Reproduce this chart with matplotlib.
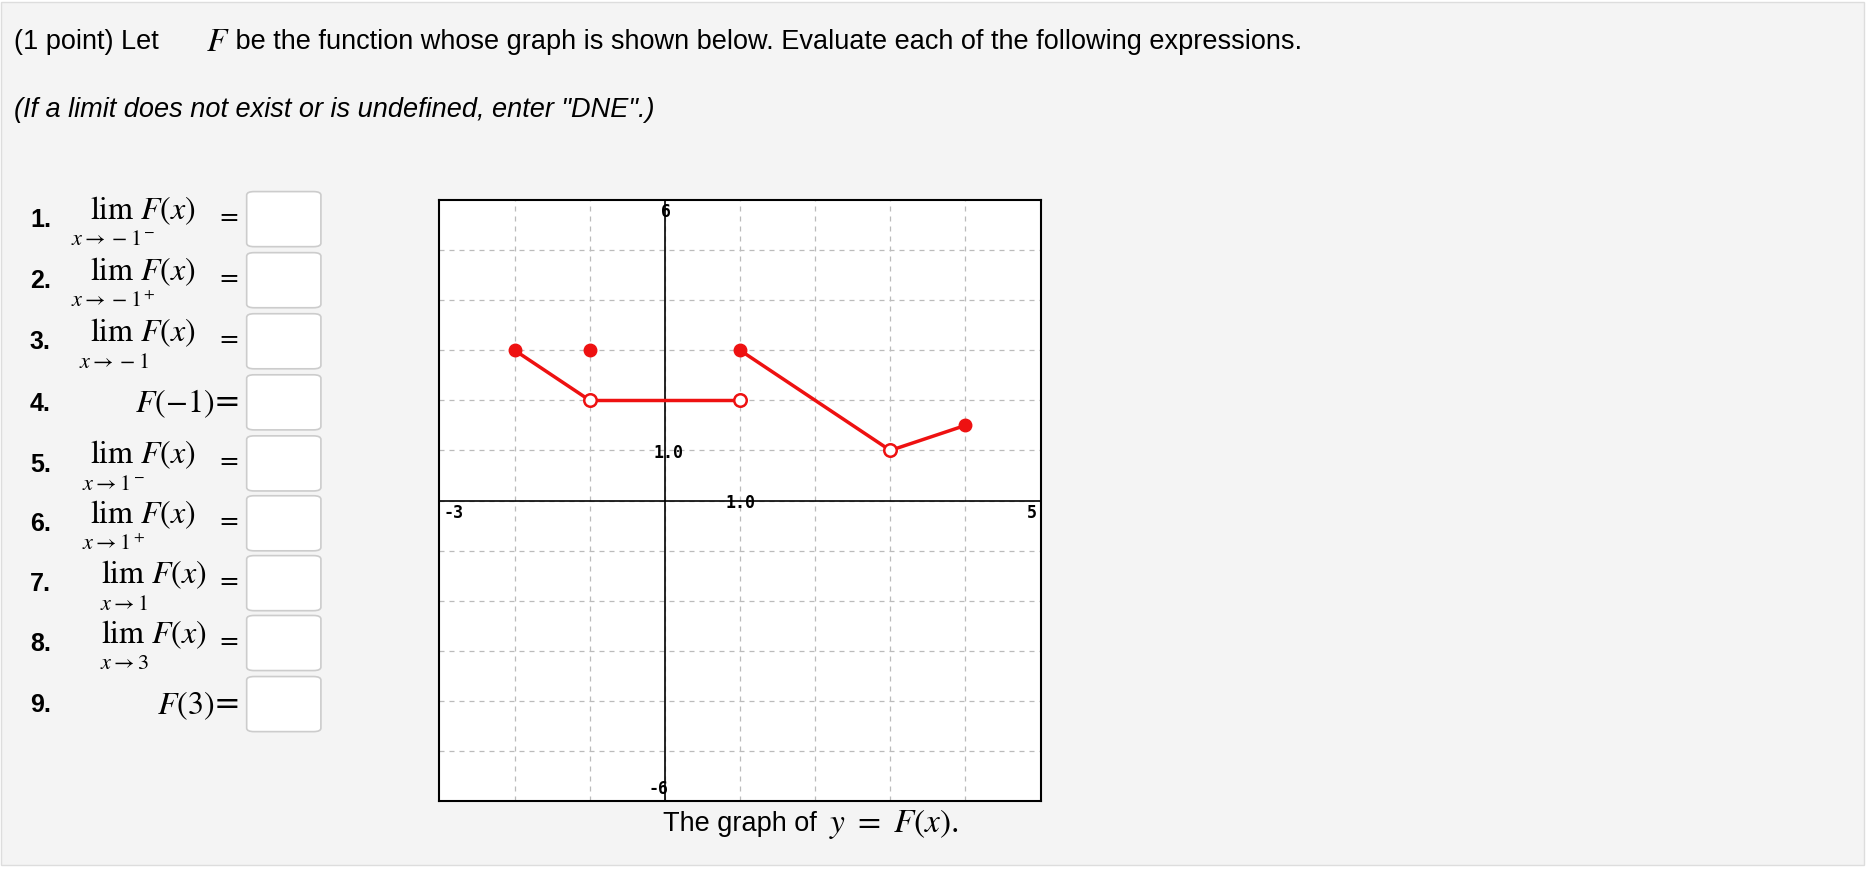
import matplotlib
matplotlib.use("Agg")
import matplotlib.pyplot as plt
from matplotlib.patches import FancyBboxPatch, Rectangle

plt.rcParams['mathtext.fontset'] = 'stix'

# data
seg_x = [[-2, -1], [-1, 1], [1, 3], [3, 4]]
seg_y = [[3, 2], [2, 2], [3, 1], [1, 1.5]]
filled_x = [-2, -1, 1, 4]
filled_y = [3, 3, 3, 1.5]
open_x = [-1, 1, 3]
open_y = [2, 2, 1]
subs = [r"x\to -1^-", r"x\to -1^+", r"x\to -1", None, r"x\to 1^-", r"x\to 1^+", r"x\to 1", r"x\to 3", None]
rows_top = [160, 211, 262, 313, 364, 414, 464, 514, 565]

W, H = 1868, 885
s = W / 1560.0
fig = plt.figure(figsize=(W / 100, H / 100), dpi=100)
fig.patch.set_facecolor("white")

def fx(x): return x * s / W
def fy(y): return 1 - y * s / H

bg = Rectangle((fx(1), fy(722)), fx(1557) - fx(1), fy(2) - fy(722),
               transform=fig.transFigure, facecolor="#f4f4f4",
               edgecolor="#dddddd", lw=1, zorder=-10)
fig.patches.append(bg)

fig.text(fx(12), fy(35), "(1 point) Let", fontsize=19.5, va="center", family="Liberation Sans")
fig.text(fx(172), fy(35), r"$F$", fontsize=24, va="center")
fig.text(fx(190), fy(35), " be the function whose graph is shown below. Evaluate each of the following expressions.",
         fontsize=19.5, va="center", family="Liberation Sans")
fig.text(fx(12), fy(92), '(If a limit does not exist or is undefined, enter "DNE".)', fontsize=19.5,
         va="center", style="italic", family="Liberation Sans")

for i, (top, sub) in enumerate(zip(rows_top, subs)):
    yc = top + 24
    fig.text(fx(25), fy(yc), f"{i+1}.", fontsize=18, weight="bold", va="center", family="Liberation Sans")
    if sub is not None:
        xl = 75 if i < 6 else 84
        fig.text(fx(xl), fy(yc - 8), r"$\mathrm{lim}\ F(x)$", fontsize=23, va="center")
        fig.text(fx(200), fy(yc - 2), "=", fontsize=18, va="center", ha="right")
        fig.text(fx(xl + 20), fy(yc + 16), "$" + sub + "$", fontsize=16, va="center", ha="center")
    else:
        lab = r"$F(-1)$=" if i == 3 else r"$F(3)$="
        fig.text(fx(200), fy(yc), lab, fontsize=23, va="center", ha="right")
    fig.patches.append(FancyBboxPatch((fx(206), fy(top + 46)), fx(268) - fx(206), fy(top) - fy(top + 46),
                                      boxstyle="round,pad=0,rounding_size=0.004",
                                      transform=fig.transFigure, facecolor="white",
                                      edgecolor="#cccccc", lw=1.2))

ax = fig.add_axes([fx(367), fy(669), fx(869) - fx(367), fy(167) - fy(669)])
ax.set_zorder(5)
ax.set_facecolor("white")
ax.set_xlim(-3, 5)
ax.set_ylim(-6, 6)
for gx in range(-2, 5):
    ax.axvline(gx, color="#bbbbbb", ls=(0, (4, 4)), lw=0.9)
for gy in range(-5, 6):
    ax.axhline(gy, color="#bbbbbb", ls=(0, (4, 4)), lw=0.9)
ax.axhline(0, color="black", lw=1.2)
ax.axvline(0, color="black", lw=1.2)
ax.set_xticks([]); ax.set_yticks([])
for sp in ax.spines.values():
    sp.set_linewidth(1.5)

for xs, ys in zip(seg_x, seg_y):
    ax.plot(xs, ys, color="#ee1111", lw=2.5)
ax.plot(filled_x, filled_y, "o", color="#ee1111", ms=9)
ax.plot(open_x, open_y, "o", mfc="white", mec="#ee1111", mew=1.8, ms=9)

kw = dict(fontsize=12, weight="bold", family="DejaVu Sans Mono")
ax.text(-0.05, 5.75, "6", va="center", **kw)
ax.text(0.05, -5.75, "-6", va="center", ha="right", **kw)
ax.text(-2.95, -0.25, "-3", va="center", **kw)
ax.text(4.95, -0.25, "5", va="center", ha="right", **kw)
ax.text(0.05, 0.95, "1.0", va="center", ha="center", **kw)
ax.text(1.0, -0.05, "1.0", va="center", ha="center", **kw)

fig.text(fx(682), fy(688), "The graph of", fontsize=19.5, va="center", ha="right", family="Liberation Sans")
fig.text(fx(692), fy(688), r"$y\ =\ F(x).$", fontsize=24, va="center")

fig.savefig("out.png", dpi=100)
